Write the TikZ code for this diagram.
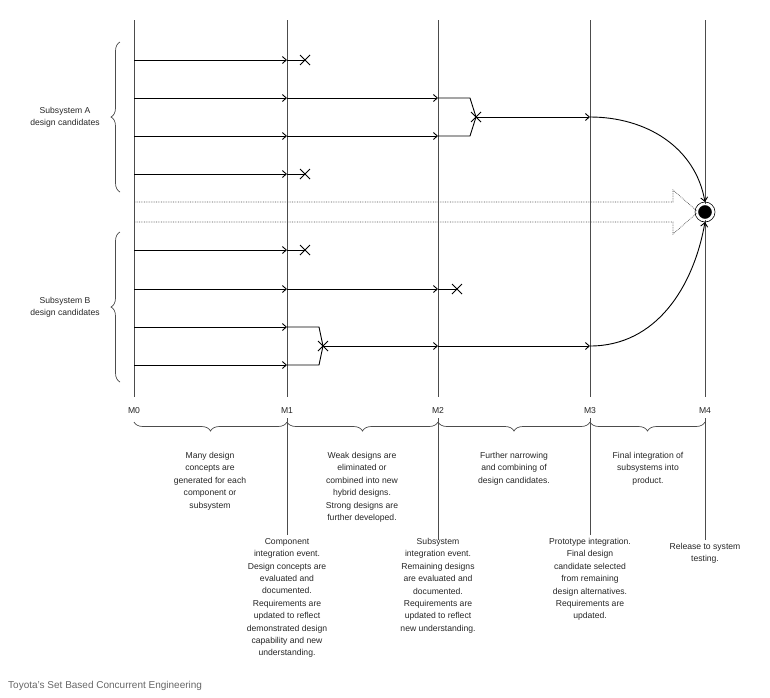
\documentclass[tikz,border=0pt]{standalone}
\usepackage{fontspec}
\setmainfont{Liberation Sans}
\usetikzlibrary{arrows.meta,decorations.pathreplacing,calc}
\begin{document}
\begin{tikzpicture}[x=1pt,y=-1pt,
  vline/.style={draw=black!70,line width=0.8pt},
  flow/.style={draw=black,line width=0.9pt,-{Straight Barb[length=4pt,width=7pt]}},
  flowplain/.style={draw=black,line width=0.9pt},
  txt/.style={font=\fontsize{8.6}{12.4}\selectfont,align=center,text=black!85,inner sep=0pt,anchor=north},
  brc/.style={draw=black!70,line width=0.7pt,decorate,decoration={brace,amplitude=9pt}}]
\useasboundingbox (0,0) rectangle (770,697);
% milestones
\foreach \n/\x in {0/134,1/287,2/438,3/590,4/705}{
  \coordinate (m\n t) at (\x,20);
  \coordinate (m\n b) at (\x,397);
  \draw[vline] (m\n t) -- (m\n b);
  \node[font=\fontsize{8.6}{10}\selectfont,text=black!85,inner sep=0pt,anchor=base] (ml\n) at (\x,413) {M\n};
}
\foreach \n/\x/\e in {1/287/535,2/438/540,3/590/535,4/705/540}{
  \coordinate (m\n c) at (\x,418);
  \coordinate (m\n d) at (\x,\e);
  \draw[vline] (m\n c) -- (m\n d);
}
% rows
\foreach \r/\y in {a1/60,a2/98,a3/136,a4/174,b1/250,b2/289,b3/327,b4/365}{
  \coordinate (\r0) at (134,\y);
  \coordinate (\r1) at (287,\y);
  \coordinate (\r2) at (438,\y);
  \draw[flow] (\r0) -- (\r1);
}
% crosses
\coordinate (xa1) at (305,60); \coordinate (xa4) at (305,174);
\coordinate (xb1) at (305,250); \coordinate (xb2) at (457,289);
\draw[flowplain] (a11) -- (xa1); \draw[flowplain] (a41) -- (xa4);
\draw[flowplain] (b11) -- (xb1);
\draw[flow] (b21) -- (b22); \draw[flowplain] (b22) -- (xb2);
\foreach \c in {xa1,xa4,xb1,xb2}{
  \draw[line width=0.9pt] ($(\c)+(-5,-5)$) -- ($(\c)+(5,5)$) ($(\c)+(-5,5)$) -- ($(\c)+(5,-5)$);}
% merge A
\coordinate (ma) at (476,117);
\draw[flow] (a21) -- (a22); \draw[flow] (a31) -- (a32);
\draw[flowplain] (a22) -- (470,98) -- (ma) -- (470,136) -- (a32);
\draw[flowplain] ($(ma)+(-5,-5)$) -- ($(ma)+(5,5)$) ($(ma)+(-5,5)$) -- ($(ma)+(5,-5)$);
\coordinate (a3m) at (590,117);
\draw[flow] (ma) -- (a3m);
% merge B
\coordinate (mb) at (323,346);
\draw[flowplain] (b31) -- (319,327) -- (mb) -- (319,365) -- (b41);
\draw[flowplain] ($(mb)+(-5,-5)$) -- ($(mb)+(5,5)$) ($(mb)+(-5,5)$) -- ($(mb)+(5,-5)$);
\coordinate (b2m) at (438,346); \coordinate (b3m) at (590,346);
\draw[flow] (mb) -- (b2m); \draw[flow] (b2m) -- (b3m);
% dotted arrow
\coordinate (d1) at (134,202); \coordinate (d2) at (134,222);
\draw[black!70,densely dotted,line width=0.7pt] (d1) -- (673,202) -- (673,190) -- (698,212) -- (673,234) -- (673,222) -- (d2);
% final node
\node[circle,fill=black,minimum size=15pt,inner sep=0pt,draw=white,line width=1.2pt] (fin) at (705,212) {};
\draw[black,line width=0.6pt] (fin) circle (10pt);
\draw[flow] (a3m) to[out=0,in=100] ($(fin)+(0,-10)$);
\draw[flow] (b3m) to[out=0,in=-100] ($(fin)+(0,10)$);
% side braces
\draw[brc] (120,192) -- (120,42);
\draw[brc] (120,382) -- (120,232);
\node[txt,anchor=center] (la) at (65,117) {Subsystem A\\design candidates};
\node[txt,anchor=center] (lb) at (65,307) {Subsystem B\\design candidates};
% bottom braces
\draw[brc] (287,422) -- (134,422);
\draw[brc] (438,422) -- (287,422);
\draw[brc] (590,422) -- (438,422);
\draw[brc] (705,422) -- (590,422);
\node[txt] (t1) at (210,452) {Many design\\concepts are\\generated for each\\component or\\subsystem};
\node[txt] (t2) at (362,452) {Weak designs are\\eliminated or\\combined into new\\hybrid designs.\\Strong designs are\\further developed.};
\node[txt] (t3) at (514,452) {Further narrowing\\and combining of\\design candidates.};
\node[txt] (t4) at (648,452) {Final integration of\\subsystems into\\product.};
\node[txt] (u1) at (287,538) {Component\\integration event.\\Design concepts are\\evaluated and\\documented.\\Requirements are\\updated to reflect\\demonstrated design\\capability and new\\understanding.};
\node[txt] (u2) at (438,538) {Subsystem\\integration event.\\Remaining designs\\are evaluated and\\documented.\\Requirements are\\updated to reflect\\new understanding.};
\node[txt] (u3) at (590,538) {Prototype integration.\\Final design\\candidate selected\\from remaining\\design alternatives.\\Requirements are\\updated.};
\node[txt] (u4) at (705,543) {Release to system\\testing.};
\node[anchor=west,font=\fontsize{10}{12}\selectfont,text=black!60,inner sep=0pt] (cap) at (8,686) {Toyota’s Set Based Concurrent Engineering};
\end{tikzpicture}
\end{document}
